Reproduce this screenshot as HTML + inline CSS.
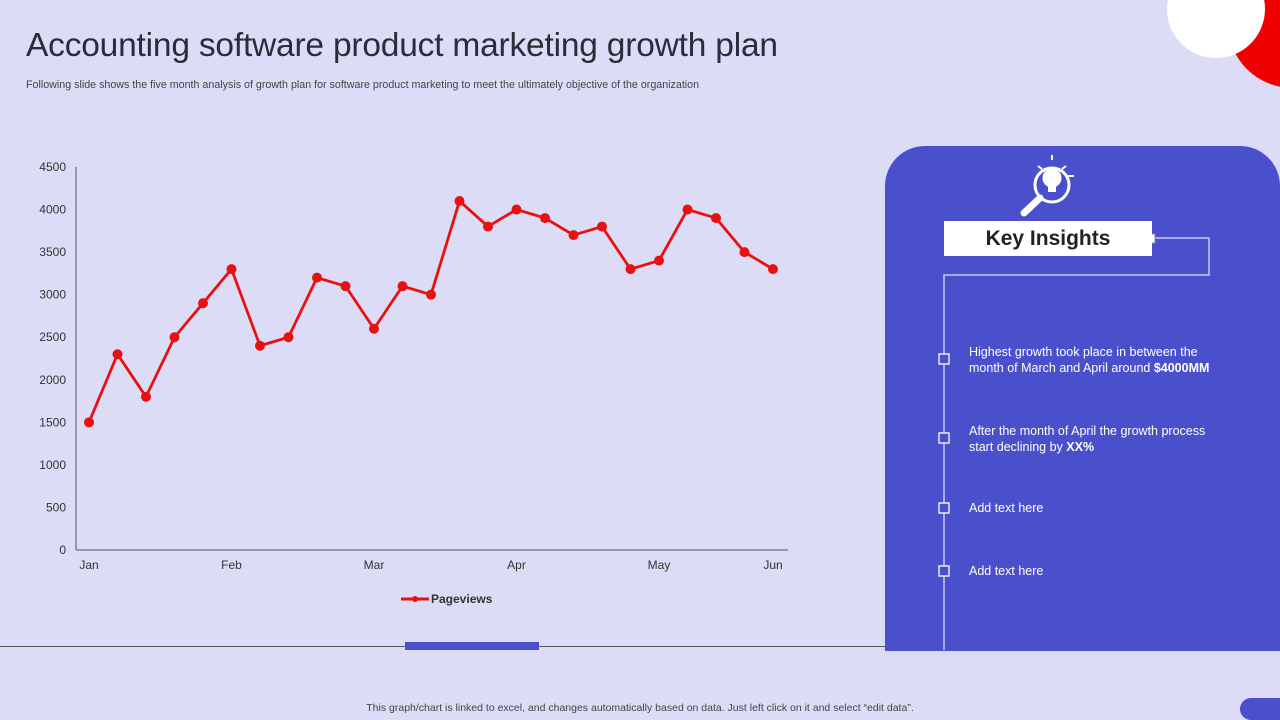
<!DOCTYPE html>
<html><head><meta charset="utf-8"><style>
body{margin:0;width:1280px;height:720px;overflow:hidden;background:#dcdcf6;font-family:"Liberation Sans",sans-serif;position:relative}
.abs{position:absolute}
#clip{position:absolute;left:0;top:0;width:1280px;height:720px;overflow:hidden}
</style></head><body>
<div id="clip">
<div class="abs" style="left:26px;top:27px;font-size:33.5px;letter-spacing:-0.2px;color:#2b2b3a">Accounting software product marketing growth plan</div>
<div class="abs" style="left:26px;top:79px;font-size:10.7px;color:#444">Following slide shows the five month  analysis of growth plan for software product marketing to meet the ultimately objective of the organization</div>
<div class="abs" style="left:1228px;top:-40px;width:130px;height:128px;border-radius:50%;background:#f00000"></div>
<div class="abs" style="left:1167px;top:-40px;width:98px;height:98px;border-radius:50%;background:#fff"></div>
<div class="abs" style="left:0;top:646px;width:890px;height:1px;background:#555"></div>
<div class="abs" style="left:405px;top:642px;width:134px;height:8px;background:#4a50cc"></div>
<div class="abs" style="left:1240px;top:698px;width:40px;height:22px;border-radius:12px 0 0 12px;background:#4a50cc"></div>
<div class="abs" style="left:0;width:1280px;text-align:center;top:702px;font-size:10.5px;color:#444">This graph/chart is linked to excel, and changes automatically based on data. Just left click on it and select “edit data”.</div>

<div class="abs" style="left:885px;top:146px;width:395px;height:505px;background:#4a50cc;border-radius:40px 40px 0 0"></div>
<svg class="abs" style="left:0;top:0" width="1280" height="720">
<g stroke="#fff" fill="none" stroke-width="3">
<circle cx="1052" cy="185" r="17"/><line x1="1040" y1="198" x2="1024" y2="213" stroke-width="7" stroke-linecap="round"/>
<circle cx="1052" cy="178" r="8" fill="#fff"/><rect x="1048" y="186" width="8" height="6" fill="#fff" stroke="none"/>
<line x1="1052" y1="155" x2="1052" y2="160" stroke-width="2"/><line x1="1038" y1="166" x2="1042" y2="169" stroke-width="2"/><line x1="1066" y1="166" x2="1062" y2="169" stroke-width="2"/><line x1="1068" y1="176" x2="1074" y2="176" stroke-width="2"/></g>
<polyline points="1150,238 1209,238 1209,275 944,275 944,650" fill="none" stroke="#c8caf0" stroke-width="1.5"/>
<rect x="1146" y="234" width="9" height="9" fill="#fff" stroke="#888"/>
<rect x="939" y="354" width="10" height="10" fill="#4a50cc" stroke="#fff" stroke-width="1.3"/>
<rect x="939" y="433" width="10" height="10" fill="#4a50cc" stroke="#fff" stroke-width="1.3"/>
<rect x="939" y="503" width="10" height="10" fill="#4a50cc" stroke="#fff" stroke-width="1.3"/>
<rect x="939" y="566" width="10" height="10" fill="#4a50cc" stroke="#fff" stroke-width="1.3"/>
</svg>
<div class="abs" style="left:944px;top:221px;width:208px;height:35px;background:#fff;text-align:center;line-height:36px;font-size:21px;font-weight:bold;color:#222">Key Insights</div>
<div class="abs" style="left:969px;top:344px;width:255px;font-size:12.5px;line-height:16px;color:#fff">Highest growth took place in between the month of March and April around <b>$4000MM</b></div>
<div class="abs" style="left:969px;top:423px;width:255px;font-size:12.5px;line-height:16px;color:#fff">After the month of April the growth process start declining by <b>XX%</b></div>
<div class="abs" style="left:969px;top:501px;font-size:12.5px;color:#fff">Add text here</div>
<div class="abs" style="left:969px;top:564px;font-size:12.5px;color:#fff">Add text here</div>

<svg id="chart" class="abs" style="left:0;top:0" width="880" height="640"></svg>
</div>
<script>
const values=[1500,2300,1800,2500,2900,3300,2400,2500,3200,3100,2600,3100,3000,4100,3800,4000,3900,3700,3800,3300,3400,4000,3900,3500,3300];
const yTicks=[0,500,1000,1500,2000,2500,3000,3500,4000,4500];
const monthLabels=["Jan","Feb","Mar","Apr","May","Jun"];
const monthIdx=[0,5,10,15,20,24];
const svg=document.getElementById('chart');const NS='http://www.w3.org/2000/svg';
const x=i=>89+i*(773-89)/(values.length-1);
const y=v=>550-v*(550-167)/4500;
function mk(t,a){const e=document.createElementNS(NS,t);for(const k in a)e.setAttribute(k,a[k]);svg.appendChild(e);return e;}
let e=mk('line',{x1:76,y1:167,x2:76,y2:550,stroke:'#555'});

e=mk('line',{x1:76,y1:550,x2:788,y2:550,stroke:'#555'});

yTicks.forEach(v=>{const t=mk('text',{x:66,y:y(v)+4,'text-anchor':'end','font-size':12,fill:'#333','font-family':'Liberation Sans'});t.textContent=v;
});
monthLabels.forEach((m,k)=>{const t=mk('text',{x:x(monthIdx[k]),y:569,'text-anchor':'middle','font-size':12,fill:'#333','font-family':'Liberation Sans'});t.textContent=m;
});
const l=mk('polyline',{points:values.map((v,i)=>x(i)+','+y(v)).join(' '),fill:'none',stroke:'#e81010','stroke-width':2.8});

values.forEach((v,i)=>{const c=mk('circle',{cx:x(i),cy:y(v),r:5,fill:'#e81010'});
});
const lg=mk('line',{x1:401,y1:599,x2:429,y2:599,stroke:'#e81010','stroke-width':3});

const lc=mk('circle',{cx:415,cy:599,r:3,fill:'#e81010'});

const lt=mk('text',{x:431,y:603,'font-size':12,'font-weight':'bold',fill:'#333','font-family':'Liberation Sans'});lt.textContent='Pageviews';

</script>
</body></html>
